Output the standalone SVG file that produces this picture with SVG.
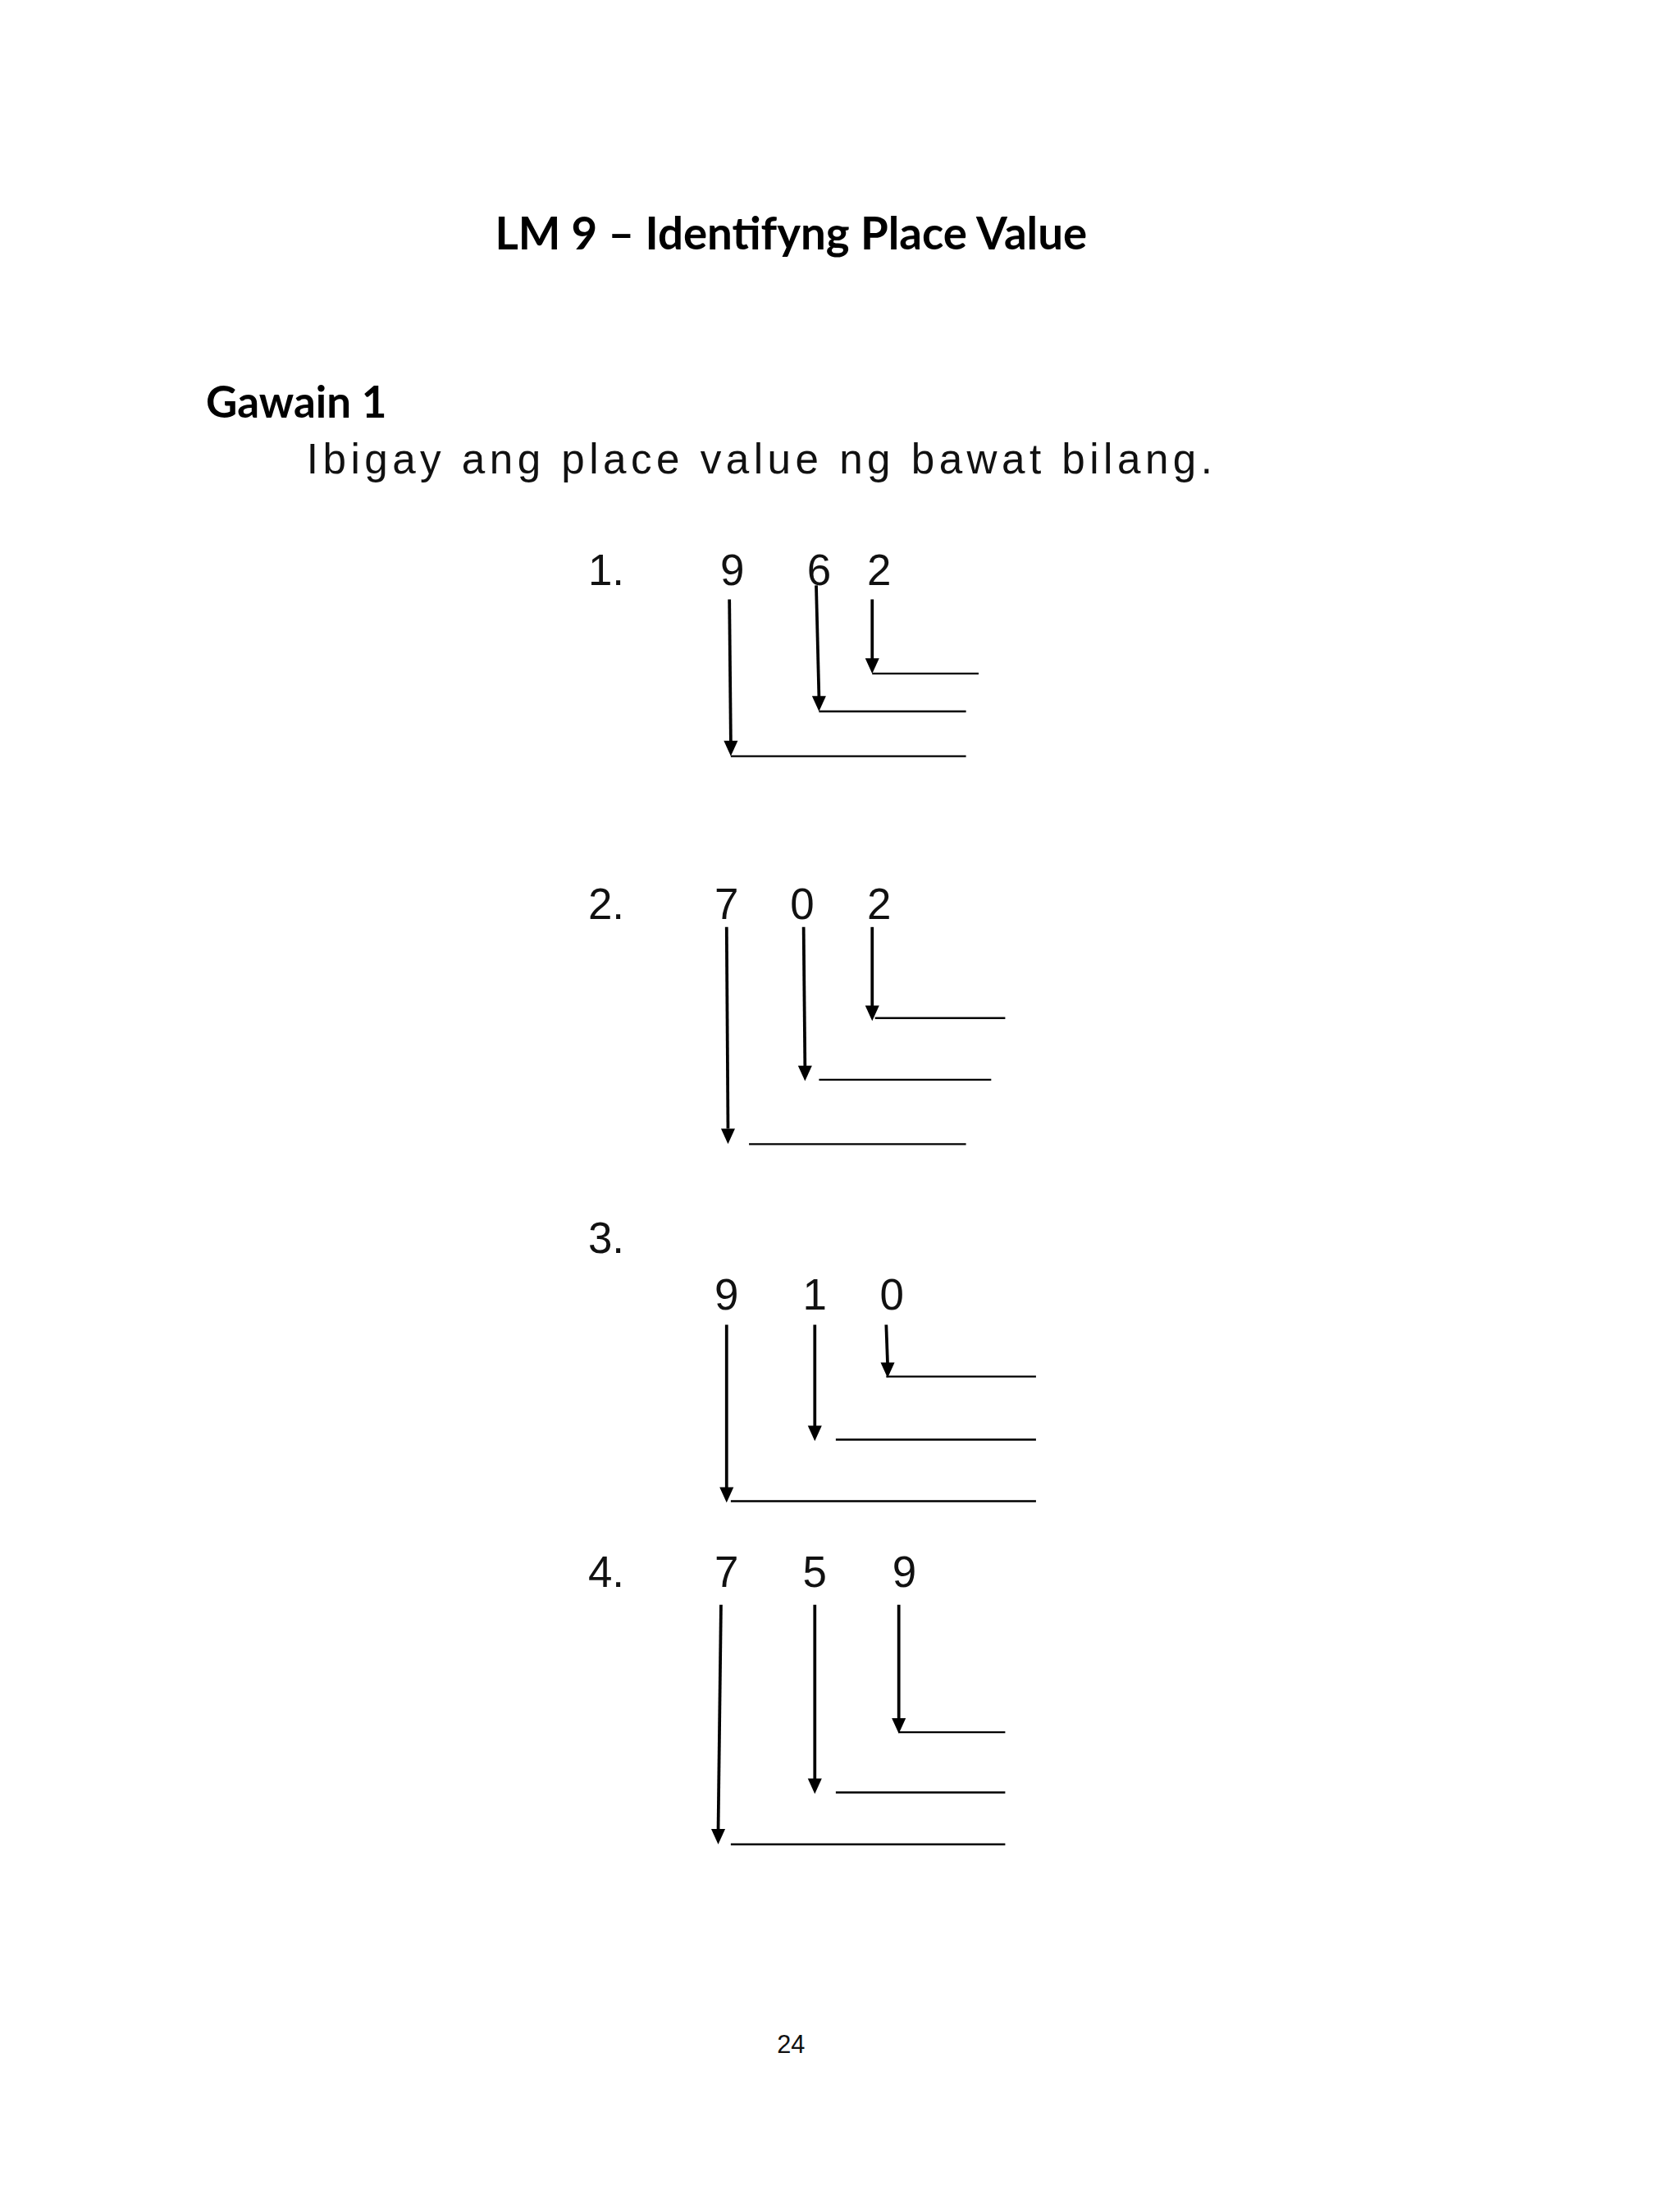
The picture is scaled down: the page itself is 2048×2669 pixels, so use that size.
<svg xmlns="http://www.w3.org/2000/svg" width="2048" height="2669" viewBox="0 0 2048 2669">
<style>
.t{font-family:"Liberation Sans",Arial,sans-serif;fill:#111}
.h{font-family:Lato,"Liberation Sans",sans-serif;font-weight:bold;fill:#000}
.d{font-family:"Liberation Sans",Arial,sans-serif;font-size:31px;fill:#111;text-anchor:middle}
.a{stroke:#000;stroke-width:2.2;fill:none;marker-end:url(#ah)}
.l{stroke:#000;stroke-width:1.4}
</style>
<defs>
<marker id="ah" markerUnits="userSpaceOnUse" markerWidth="12" markerHeight="12" viewBox="0 0 12 12" refX="6" refY="12" orient="auto-start-reverse">
</marker>
<path id="tri" d="M-5,-11 L5,-11 L0,0 Z"/>
</defs>
<rect width="2048" height="2669" fill="#fff"/>
<g transform="scale(1.70667)">
<g id="title"><text class="h" x="565" y="178" font-size="32" text-anchor="middle">LM 9 – Identifyng Place Value</text></g>
<g id="heading"><text class="h" x="147" y="298" font-size="31">Gawain 1</text></g>
<g id="instr"><text class="t" x="219" y="338" font-size="30" textLength="647">Ibigay ang place value ng bawat bilang.</text></g>
<g id="item1"><text class="d" x="433" y="418">1.</text><text class="d" x="523" y="418">9</text><text class="d" x="585" y="418">6</text><text class="d" x="628" y="418">2</text></g>
<g id="item2"><text class="d" x="433" y="656">2.</text><text class="d" x="519" y="656">7</text><text class="d" x="573" y="656">0</text><text class="d" x="628" y="656">2</text></g>
<g id="item3"><text class="d" x="433" y="895">3.</text><text class="d" x="519" y="935">9</text><text class="d" x="582" y="935">1</text><text class="d" x="637" y="935">0</text></g>
<g id="item4"><text class="d" x="433" y="1133">4.</text><text class="d" x="519" y="1133">7</text><text class="d" x="582" y="1133">5</text><text class="d" x="646" y="1133">9</text></g>
<g id="page"><text class="t" x="565" y="1466" font-size="18" text-anchor="middle" style="font-family:'Liberation Sans',sans-serif">24</text></g>
<g id="connectors">
<g stroke="#000" stroke-width="2.2">
<line x1="521" y1="428" x2="522" y2="530"/><line x1="583" y1="418" x2="585" y2="498"/><line x1="623" y1="428" x2="623" y2="471"/>
<line x1="519" y1="662" x2="520" y2="806"/><line x1="574" y1="662" x2="575" y2="762"/><line x1="623" y1="662" x2="623" y2="719"/>
<line x1="519" y1="946" x2="519" y2="1063"/><line x1="582" y1="946" x2="582" y2="1019"/><line x1="633" y1="946" x2="634" y2="974"/>
<line x1="515" y1="1146" x2="513" y2="1307"/><line x1="582" y1="1146" x2="582" y2="1271"/><line x1="642" y1="1146" x2="642" y2="1228"/>
</g>
<g fill="#000">
<use href="#tri" x="522" y="540"/><use href="#tri" x="585" y="508"/><use href="#tri" x="623" y="481"/>
<use href="#tri" x="520" y="817"/><use href="#tri" x="575" y="772"/><use href="#tri" x="623" y="729"/>
<use href="#tri" x="519" y="1073"/><use href="#tri" x="582" y="1029"/><use href="#tri" x="634" y="984"/>
<use href="#tri" x="513" y="1317"/><use href="#tri" x="582" y="1281"/><use href="#tri" x="642" y="1238"/>
</g>
<g class="l">
<line x1="522" y1="540" x2="690" y2="540"/><line x1="585" y1="508" x2="690" y2="508"/><line x1="623" y1="481" x2="699" y2="481"/>
<line x1="535" y1="817" x2="690" y2="817"/><line x1="585" y1="771" x2="708" y2="771"/><line x1="625" y1="727" x2="718" y2="727"/>
<line x1="522" y1="1072" x2="740" y2="1072"/><line x1="597" y1="1028" x2="740" y2="1028"/><line x1="633" y1="983" x2="740" y2="983"/>
<line x1="522" y1="1317" x2="718" y2="1317"/><line x1="597" y1="1280" x2="718" y2="1280"/><line x1="642" y1="1237" x2="718" y2="1237"/>
</g>
</g>
</g>
</svg>
